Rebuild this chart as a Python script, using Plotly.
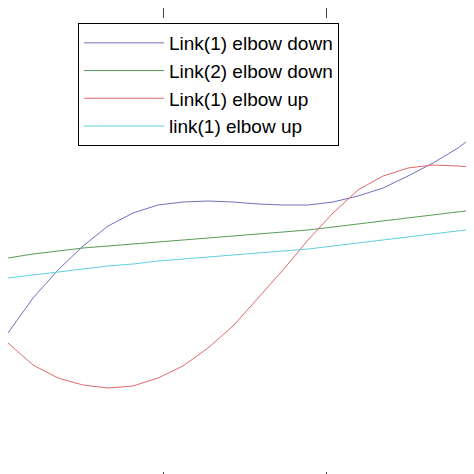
import plotly.graph_objects as go

x = [0, 25, 50, 75, 100, 125, 150, 175, 200, 225, 250, 275, 300, 325, 350, 375, 400, 425, 450, 474]
blue = [325, 290, 262, 238, 218, 205, 197, 194, 193, 194, 196, 197, 197, 194, 188, 180, 168, 155, 140, 122]
green = [250, 246, 243, 240, 238, 236, 234, 232, 230, 228, 226, 224, 222, 219, 216, 213, 210, 207, 204, 201]
red = [335, 357, 370, 377, 380, 378, 370, 358, 340, 318, 290, 262, 232, 205, 182, 168, 160, 157, 158, 160]
cyan = [270, 267, 264, 261, 258, 256, 253, 251, 249, 247, 245, 243, 241, 238, 235, 232, 229, 226, 223, 220]

names = ["Link(1) elbow down", "Link(2) elbow down", "Link(1) elbow up", "link(1) elbow up"]
colors = ["#7070c0", "#5a9a5a", "#e06a6a", "#60d0e0"]
series = [blue, green, red, cyan]

fig = go.Figure()
for n, c, s in zip(names, colors, series):
    fig.add_trace(go.Scatter(x=x, y=s, mode="lines", name=n, line=dict(color=c, width=1)))

fig.update_layout(
    width=474, height=474, margin=dict(l=0, r=0, t=0, b=0, pad=0, autoexpand=False),
    plot_bgcolor="white", paper_bgcolor="white",
    font=dict(family="Liberation Sans, Arial", size=19, color="black"),
    showlegend=True,
    legend=dict(x=70/474, y=1-15/474, xanchor="left", yanchor="top",
                bordercolor="black", borderwidth=1, bgcolor="white",
                tracegroupgap=0, itemwidth=80),
    xaxis=dict(range=[0, 474], showgrid=False, zeroline=False, tickvals=[155, 318],
               ticks="inside", ticklen=10, tickcolor="#444", showticklabels=False,
               mirror="ticks", showline=False),
    yaxis=dict(range=[474, 0], showgrid=False, zeroline=False, showticklabels=False, ticks=""),
)
fig.write_html("out.html")
